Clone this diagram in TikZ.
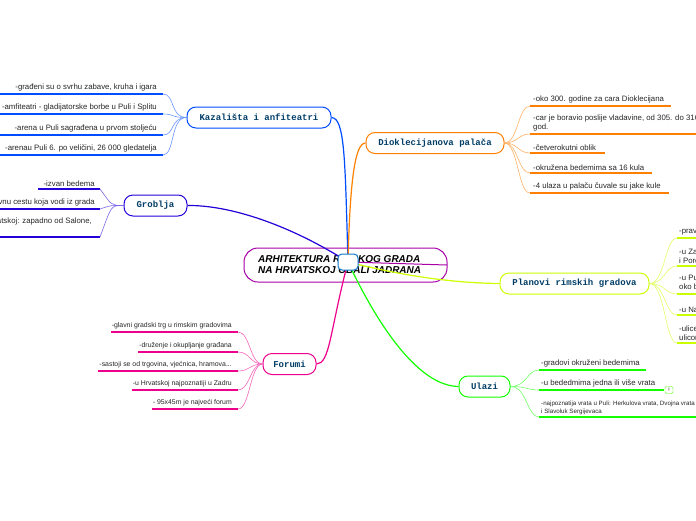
\documentclass[tikz,border=0pt]{standalone}
\usepackage{fontspec}
\setmainfont{Liberation Sans}
\newfontfamily\monob{Liberation Mono}
\begin{document}
\begin{tikzpicture}[x=1pt,y=-1pt,
  br/.style={draw=#1,line width=1pt,rounded corners=9pt,fill=white,minimum height=21pt,font=\monob\bfseries\fontsize{9}{10}\selectfont,text=black!60!green!60!blue},
  lt/.style={font=\fontsize{7.8}{9}\selectfont,text=black!85,inner sep=1pt},
  ul/.style={draw=#1,line width=1.6pt},
  tw/.style={draw=#1!60,line width=0.6pt}]
\useasboundingbox (0,0) rectangle (696,520);
% central
\node[draw=violet!70!magenta,line width=1pt,rounded corners=14pt,minimum width=203pt,minimum height=34pt] (c) at (345.5,265) {};
\node[anchor=west,align=left,inner sep=0pt,font=\bfseries\itshape\fontsize{10}{11}\selectfont] (ct) at (258,265) {ARHITEKTURA RIMSKOG GRADA\\NA HRVATSKOJ OBALI JADRANA};
\coordinate (cc) at (348,262);
% branches
\node[br=blue!70!cyan,minimum width=144pt] (k) at (259,117.5) {Kazališta i anfiteatri};
\node[br=blue!70!violet,minimum width=63pt] (g) at (155.5,205.5) {Groblja};
\node[br=orange,minimum width=138pt] (d) at (435,143) {Dioklecijanova palača};
\node[br=lime!80!yellow,minimum width=149pt] (p) at (574.5,283.5) {Planovi rimskih gradova};
\node[br=green!90!lime,minimum width=51pt] (u) at (484.5,386.5) {Ulazi};
\node[br=magenta,minimum width=53pt] (f) at (289.5,364) {Forumi};
\draw[blue!70!cyan,line width=1.2pt] (cc) .. controls (345,160) and (345,118) .. (k.east);
\draw[blue!70!violet,line width=1.2pt] (cc) .. controls (290,225) and (230,205) .. (g.east);
\draw[orange,line width=1.2pt] (cc) .. controls (350,180) and (355,143) .. (d.west);
\draw[lime!80!yellow,line width=1.2pt] (cc) .. controls (400,275) and (450,283) .. (p.west);
\draw[green!90!lime,line width=1.2pt] (cc) .. controls (380,330) and (420,386) .. (u.west);
\draw[magenta,line width=1.2pt] (cc) .. controls (330,330) and (330,364) .. (f.east);
\draw[violet!70!magenta,line width=1pt] (cc) -- (447,265);
\node[draw=cyan!60!blue,line width=1pt,fill=white,rounded corners=4pt,minimum width=20pt,minimum height=16pt] (ci) at (cc) {};
% Kazalista children
\foreach \i/\y/\t in {1/94/{-građeni su o svrhu zabave, kruha i igara},2/114/{-amfiteatri - gladijatorske borbe u Puli i Splitu},3/135/{-arena u Puli sagrađena u prvom stoljeću},4/155/{-arenau Puli 6. po veličini, 26 000 gledatelja}}{
  \coordinate (ke\i) at (163,\y);
  \draw[ul=blue!70!cyan] (0,\y) -- (ke\i);
  \node[lt,anchor=south east] at (158,\y-1.5) {\t};
  \draw[tw=blue!70!cyan] (k.west) .. controls (170,117.5) and (175,\y) .. (ke\i);}
% Groblja children
\coordinate (ge1) at (100,189); \draw[ul=blue!70!violet] (38,189) -- (ge1);
\node[lt,anchor=south east] at (96,187.5) {-izvan bedema};
\coordinate (ge2) at (100,209); \draw[ul=blue!70!violet] (0,209) -- (ge2);
\node[lt,anchor=south east] at (96,207.5) {-uz glavnu cestu koja vodi iz grada};
\coordinate (ge3) at (100,237); \draw[ul=blue!70!violet] (0,237) -- (ge3);
\node[lt,anchor=south east] at (93,226) {-u Hrvatskoj: zapadno od Salone,};
\foreach \i in {1,2,3}{\draw[tw=blue!70!violet] (g.west) .. controls (110,205.5) and (112,205) .. (ge\i);}
% Dioklecijanova children
\foreach \i/\y in {1/106,2/134,3/153,4/173,5/193}{\coordinate (ds\i) at (530,\y);
  \draw[tw=orange] (d.east) .. controls (518,143) and (518,\y) .. (ds\i);}
\draw[ul=orange] (ds1) -- (671,106); \node[lt,anchor=south west] at (532,104.5) {-oko 300. godine za cara Dioklecijana};
\draw[ul=orange] (ds2) -- (696,134); \node[lt,anchor=south west,align=left] at (532,132.5) {-car je boravio poslije vladavine, od 305. do 316\\god.};
\draw[ul=orange] (ds3) -- (605,153); \node[lt,anchor=south west] at (532,151.5) {-četverokutni oblik};
\draw[ul=orange] (ds4) -- (652,173); \node[lt,anchor=south west] at (532,171.5) {-okružena bedemima sa 16 kula};
\draw[ul=orange] (ds5) -- (669,193); \node[lt,anchor=south west] at (532,191.5) {-4 ulaza u palaču čuvale su jake kule};
% Planovi children
\foreach \i/\y in {1/238,2/266,3/294,4/315,5/343}{\coordinate (ps\i) at (677,\y);
  \draw[tw=lime!80!yellow] (p.east) .. controls (665,283.5) and (665,\y) .. (ps\i);
  \draw[ul=lime!80!yellow] (ps\i) -- (696,\y);}
\node[lt,anchor=south west] at (678,236.5) {-pravokutni};
\node[lt,anchor=south west,align=left] at (678,264.5) {-u Zadru\\i Poreču};
\node[lt,anchor=south west,align=left] at (678,292.5) {-u Puli\\oko brežuljka};
\node[lt,anchor=south west] at (678,313.5) {-u Naroni};
\node[lt,anchor=south west,align=left] at (678,341.5) {-ulice\\ulicom};
% Ulazi children
\foreach \i/\y in {1/370,2/390,3/417}{\coordinate (us\i) at (539,\y);
  \draw[tw=green!90!lime] (u.east) .. controls (527,386.5) and (527,\y) .. (us\i);}
\draw[ul=green!90!lime] (us1) -- (646,370); \node[lt,anchor=south west] at (540,368.5) {-gradovi okruženi bedemima};
\draw[ul=green!90!lime] (us2) -- (664,390); \node[lt,anchor=south west] at (540,388.5) {-u bededmima jedna ili više vrata};
\draw[ul=green!90!lime] (us3) -- (696,417); \node[lt,anchor=south west,align=left,font=\fontsize{6.2}{7.2}\selectfont] at (540,415.5) {-najpoznatija vrata u Puli: Herkulova vrata, Dvojna vrata\\i Slavoluk Sergijevaca};
\node[draw=green!60!lime,rounded corners=2pt,inner sep=1pt,minimum width=8pt,minimum height=7pt,font=\fontsize{5}{5}\selectfont] (ex) at (669,390) {!};
% Forumi children
\foreach \i/\y/\t in {1/332/{-glavni gradski trg u rimskim gradovima},2/352/{-druženje i okupljanje građana},3/371/{-sastoji se od trgovina, vjećnica, hramova...},4/390/{-u Hrvatskoj najpoznatiji u Zadru},5/409/{- 95x45m je najveći forum}}{
  \coordinate (fe\i) at (238,\y);
  \node[lt,anchor=south east,font=\fontsize{6.9}{8}\selectfont] (ft\i) at (233,\y-1.5) {\t};
  \draw[ul=magenta] (ft\i.south west|-fe\i) -- (fe\i);
  \draw[tw=magenta] (f.west) .. controls (250,364) and (250,\y) .. (fe\i);}
\end{tikzpicture}
\end{document}
